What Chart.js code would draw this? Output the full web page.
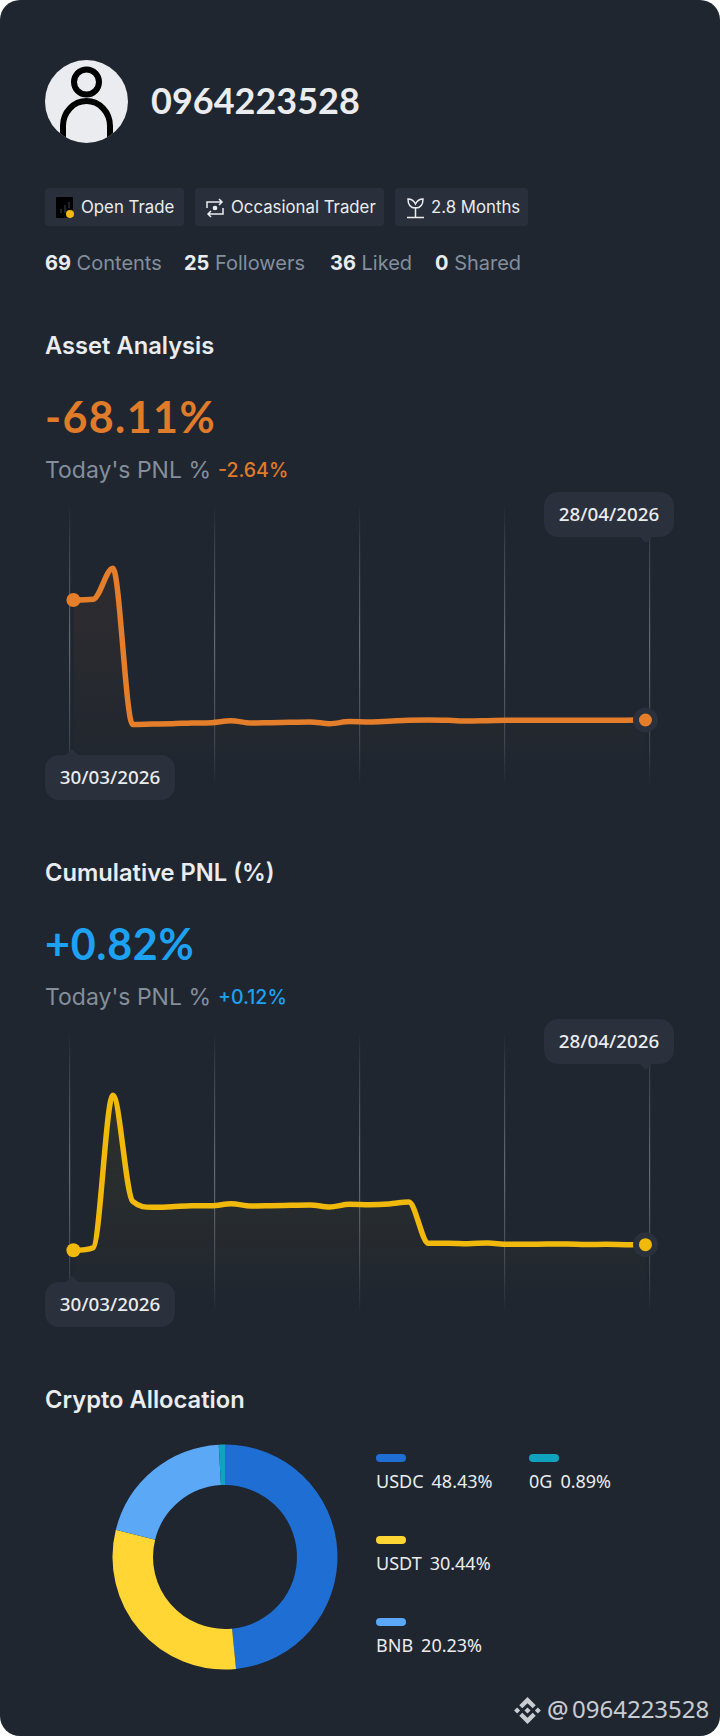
<!DOCTYPE html>
<html><head><meta charset="utf-8">
<script src="https://cdn.jsdelivr.net/npm/chart.js@4"></script>
<style>
html,body{margin:0;padding:0;background:#fff;width:720px;height:1736px;overflow:hidden}
#card{position:absolute;left:0;top:0;width:720px;height:1736px;background:#1F2630;border-radius:20px;overflow:hidden;font-family:Inter,sans-serif;color:#EAECEF}
.t{position:absolute;white-space:nowrap;line-height:1}
canvas{position:absolute;left:0}
.chip{position:absolute;top:188px;height:38px;background:#2A303B;border-radius:4px}
.chip span{position:absolute;top:0;line-height:38px;font-size:16.800px;color:#EAECEF;white-space:nowrap}
.chip svg{position:absolute;top:9px}
.bub{position:absolute;width:130px;height:45px;background:#2A303C;border-radius:14px;color:#EAECEF;font:500 18.800px/45px "Noto Sans",sans-serif;text-align:center}
.bub i{position:absolute;width:0;height:0;border-left:6px solid transparent;border-right:6px solid transparent}
.bub.r i{left:96px;top:45px;border-top:6px solid #2A303C}
.bub.l i{left:21px;top:-6px;border-bottom:6px solid #2A303C}
.sw{position:absolute;width:30px;height:8px;border-radius:4px}
.lg{position:absolute;font:400 18px/24px "Noto Sans",sans-serif;color:#EAECEF;white-space:nowrap}
.lg span{margin-left:8px}
.g{color:#848E9C}
b{font-weight:700;color:#EAECEF}
.h{font-size:23.700px;font-weight:600}
.big{font-size:43px;font-weight:700;font-family:Lato,sans-serif}
.sub{font-size:23px;color:#848E9C}
.d{font-size:19.500px;font-weight:500}
</style></head><body>
<div id="card">
<svg style="position:absolute;left:45px;top:60px" width="83" height="83" viewBox="0 0 83 83">
<defs><clipPath id="av"><circle cx="41.5" cy="41.5" r="41.5"/></clipPath></defs>
<circle cx="41.5" cy="41.5" r="41.5" fill="#EAECEF"/>
<g clip-path="url(#av)" fill="none" stroke="#000" stroke-width="6"><circle cx="41.5" cy="22" r="12.5"/><path d="M18 78V66a23.500 25 0 0 1 47 0V78"/></g>
</svg>
<div class="t" style="left:151px;top:82px;font-size:36px;font-weight:700;font-family:Lato,sans-serif">0964223528</div>
<div class="chip" style="left:45px;width:139px">
<svg style="left:11px" width="18" height="22" viewBox="0 0 18 22"><rect x="0" y="0" width="17" height="21" rx="1" fill="#000"/><path d="M5 12v4M9 8v8M13 5v6" stroke="#2A303B" stroke-width="1.500"/><circle cx="14" cy="17" r="4" fill="#F0B90B"/></svg>
<span style="left:36px">Open Trade</span></div>
<div class="chip" style="left:195px;width:189px">
<svg style="left:10px" width="20" height="22" viewBox="0 0 20 22" fill="none" stroke="#EAECEF" stroke-width="1.500"><path d="M2 11V5h15M14 2l3 3-3 3M18 11v6H3M6 20l-3-3 3-3"/><circle cx="10" cy="11" r="1.600" fill="#EAECEF"/></svg>
<span style="left:36px">Occasional Trader</span></div>
<div class="chip" style="left:395px;width:133px">
<svg style="left:11px" width="19" height="22" viewBox="0 0 19 22" fill="none" stroke="#EAECEF" stroke-width="1.500"><path d="M9.500 10V20M1 20.500h17M9.500 11C4 11 2 7 2 2c4 0 6 2 7.500 5C11 4 13 2 17 2c0 5-2 9-7.500 9"/></svg>
<span style="left:36px">2.8 Months</span></div>
<div class="t" style="left:45px;top:253px;font-size:20px"><b>69</b> <span class="g">Contents</span></div>
<div class="t" style="left:184px;top:253px;font-size:20px"><b>25</b> <span class="g">Followers</span></div>
<div class="t" style="left:330px;top:253px;font-size:20px"><b>36</b> <span class="g">Liked</span></div>
<div class="t" style="left:435px;top:253px;font-size:20px"><b>0</b> <span class="g">Shared</span></div>

<div class="t h" style="left:45px;top:334px">Asset Analysis</div>
<div class="t big" style="left:45px;top:395px;color:#E07B2A;letter-spacing:1.400px">-68.11%</div>
<div class="t sub" style="left:45px;top:459px">Today's PNL %</div>
<div class="t d" style="left:218px;top:461px;color:#E07B2A">-2.64%</div>
<canvas id="c1" width="720" height="285" style="top:503px"></canvas>
<div class="bub r" style="left:544px;top:492px" id="b1r"><i></i></div>
<div class="bub l" style="left:45px;top:755px" id="b1l"><i></i></div>

<div class="t h" style="left:45px;top:861px">Cumulative PNL (%)</div>
<div class="t big" style="left:45px;top:922px;color:#1DA2F2;letter-spacing:.700px">+0.82%</div>
<div class="t sub" style="left:45px;top:986px">Today's PNL %</div>
<div class="t d" style="left:218px;top:988px;color:#1DA2F2">+0.12%</div>
<canvas id="c2" width="720" height="285" style="top:1030px"></canvas>
<div class="bub r" style="left:544px;top:1019px" id="b2r"><i></i></div>
<div class="bub l" style="left:45px;top:1282px" id="b2l"><i></i></div>

<div class="t h" style="left:45px;top:1388px">Crypto Allocation</div>
<canvas id="c3" width="240" height="240" style="left:105.400px;top:1437.300px"></canvas>
<div id="legend"></div>

<svg style="position:absolute;left:514px;top:1697px" width="27" height="27" viewBox="0 0 126 126" fill="#C9CCD1"><path d="M38.700 53l24.300-24.300L87.300 53l14.100-14.100L63 .500 24.600 38.900zM.500 63l14.100-14.100L28.700 63 14.600 77.100zM38.700 73L63 97.300 87.300 73l14.100 14.100L63 125.500 24.600 87.100zM97.300 63l14.100-14.100L125.500 63l-14.100 14.100zM77.300 63L63 48.700 48.700 63 63 77.300z"/></svg>
<div class="t" style="left:547px;top:1694px;font:500 24px/30px 'Noto Sans',sans-serif;color:#C9CCD1">@</div>
<div class="t" style="left:572px;top:1694px;font:400 24px/30px 'Noto Sans',sans-serif;color:#C9CCD1">0964223528</div>
</div>
<script>
const dates = ["30/03/2026","31/03/2026","01/04/2026","02/04/2026","03/04/2026","04/04/2026","05/04/2026","06/04/2026","07/04/2026","08/04/2026","09/04/2026","10/04/2026","11/04/2026","12/04/2026","13/04/2026","14/04/2026","15/04/2026","16/04/2026","17/04/2026","18/04/2026","19/04/2026","20/04/2026","21/04/2026","22/04/2026","23/04/2026","24/04/2026","25/04/2026","26/04/2026","27/04/2026","28/04/2026"];
const assetValues = [0,0.4,18.0,-70.6,-70.4,-70.2,-69.8,-69.6,-68.5,-69.8,-69.6,-69.4,-69.2,-70.2,-69.0,-69.2,-68.8,-68.3,-68.1,-68.3,-68.7,-68.5,-68.3,-68.3,-68.3,-68.3,-68.2,-68.2,-68.2,-68.11];
const pnlValues = [0,0.38,22.7,7.17,6.29,6.39,6.53,6.53,6.82,6.49,6.53,6.58,6.63,6.34,6.73,6.68,6.78,7.07,1.02,1.02,0.97,1.07,0.88,0.88,0.92,0.92,0.85,0.88,0.83,0.82];
const allocLabels = ["USDC","USDT","BNB","0G"];
const allocValues = [48.43,30.44,20.23,0.89];
const allocColors = ["#1F6ED4","#FFD633","#5BA8F7","#0FA3BF"];

['b1r','b2r'].forEach(id=>document.getElementById(id).insertAdjacentText('afterbegin',dates[dates.length-1]));
['b1l','b2l'].forEach(id=>document.getElementById(id).insertAdjacentText('afterbegin',dates[0]));

function lineChart(id,values,color,rgb,yMin,yMax){
  const last=values.length-1;
  new Chart(document.getElementById(id),{
    type:'line',
    data:{datasets:[{
      data:values.map((v,i)=>({x:i,y:v})),
      borderColor:color,borderWidth:5.5,
      cubicInterpolationMode:'monotone',
      fill:'start',
      backgroundColor:c=>{
        const a=c.chart.chartArea; if(!a) return 'transparent';
        const g=c.chart.ctx.createLinearGradient(0,a.top,0,a.bottom);
        g.addColorStop(0,`rgba(${rgb},0.07)`);g.addColorStop(0.45,`rgba(${rgb},0.06)`);g.addColorStop(1,`rgba(${rgb},0)`);
        return g;
      },
      pointRadius:c=>c.dataIndex===0?7:(c.dataIndex===last?9.5:0),
      pointBorderWidth:c=>c.dataIndex===last?6:0,
      pointBorderColor:'#2A303C',
      pointBackgroundColor:color,
      pointHoverRadius:0,
      clip:false
    }]},
    options:{
      responsive:false,animation:false,
      layout:{autoPadding:false,padding:{left:69.5,right:70,top:0,bottom:0}},
      plugins:{legend:{display:false},tooltip:{enabled:false}},
      scales:{
        x:{type:'linear',min:-0.2,max:29.23,
          afterBuildTicks:s=>{const n=4;s.ticks=[0,1,2,3,4].map(k=>({value:s.min+(s.max-s.min)*k/n}));},
          ticks:{display:false},border:{display:false},
          grid:{drawTicks:false,lineWidth:1.2,color:c=>{
            const a=c.chart.chartArea; if(!a) return 'transparent';
            const g=c.chart.ctx.createLinearGradient(0,a.top,0,a.bottom);
            g.addColorStop(0,'rgba(100,108,122,0)');g.addColorStop(0.15,'rgba(100,108,122,0.4)');g.addColorStop(0.5,'rgba(100,108,122,1)');g.addColorStop(0.85,'rgba(100,108,122,0.4)');g.addColorStop(1,'rgba(100,108,122,0)');
            return g;
          }}},
        y:{min:yMin,max:yMax,display:false}
      }
    }
  });
}
lineChart('c1',assetValues,'#E47E2A','228,126,42',-106.7,55.06);
lineChart('c2',pnlValues,'#F0B90B','240,185,11',-9.47,32.25);

new Chart(document.getElementById('c3'),{
  type:'doughnut',
  data:{labels:allocLabels,datasets:[{data:allocValues,backgroundColor:allocColors,borderWidth:0}]},
  options:{responsive:false,animation:false,cutout:'64%',layout:{padding:7.5},plugins:{legend:{display:false},tooltip:{enabled:false}}}
});
const slots=[[376,1454],[376,1536],[376,1618],[529,1454]];
const lg=document.getElementById('legend');
allocLabels.forEach((n,i)=>{
  const [x,y]=slots[i];
  lg.insertAdjacentHTML('beforeend',`<div class="sw" style="left:${x}px;top:${y}px;background:${allocColors[i]}"></div><div class="lg" style="left:${x}px;top:${y+15}px">${n}<span>${allocValues[i].toFixed(2)}%</span></div>`);
});
</script>
</body></html>
